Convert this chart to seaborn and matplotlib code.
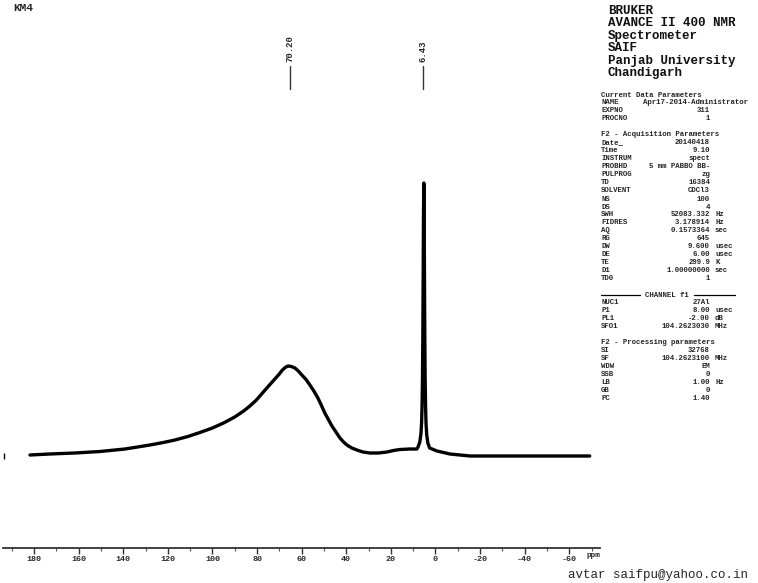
import matplotlib
matplotlib.use("Agg")
import matplotlib.pyplot as plt
from matplotlib.lines import Line2D
from matplotlib.ticker import FixedLocator, FixedFormatter
import seaborn as sns
import pandas as pd

# ---------------- data ----------------
ppm = [181.8, 172.9, 161.7, 150.4, 139.2, 128.0, 122.0, 116.8, 111.0, 105.6,
       100.0, 95.0, 90.0, 86.0, 83.2, 80.5, 78.7, 75.6, 72.0, 70.0,
       68.8, 67.4, 66.1, 64.6, 63.0, 61.5, 59.9, 58.0, 56.3, 54.5,
       52.7, 51.2, 49.6, 48.0, 46.4, 44.6, 42.8, 41.2, 39.7, 37.5,
       35.2, 32.5, 29.4, 25.5, 21.7, 18.8, 15.9, 11.4, 8.3,
       7.8, 7.0, 6.5, 6.2, 6.0, 5.8, 5.65, 5.5, 5.35,
       5.2, 5.05, 4.9, 4.75, 4.6, 4.4, 4.2, 3.9, 3.4, 2.6,
       -0.7, -6.5, -15.5, -28.9, -51.3, -69.2]
intensity = [1, 2, 3, 4.5, 7, 11, 13.5, 16, 19.5, 23.5,
             28, 33, 39, 45, 50, 55.5, 60, 68, 77, 82,
             85.5, 88.5, 90, 89.5, 88, 85, 81, 76.5, 71, 65,
             58, 51, 43, 36.5, 30, 24, 18, 14, 11, 8,
             6, 4, 3, 3, 4, 5.5, 6.5, 7, 7,
             9, 14, 22, 33, 49, 77, 117, 177, 241,
             273, 241, 176, 116, 76, 48, 32, 21, 13, 8,
             5, 2, 0, 0, 0, 0]

major_ticks = [180, 160, 140, 120, 100, 80, 60, 40, 20, 0, -20, -40, -60]
tick_labels = ["180", "160", "140", "120", "100", "80", "60", "40", "20", "0", "-20", "-40", "-60"]
minor_ticks = [190, 170, 150, 130, 110, 90, 70, 50, 30, 10, -10, -30, -50, -70]

peak_label_text = ["70.20", "6.43"]
peak_label_ppm = [65.2, 5.6]

header_lines = ["BRUKER", "AVANCE II 400 NMR", "Spectrometer", "SAIF",
                "Panjab University", "Chandigarh"]

current_title = "Current Data Parameters"
current_labels = ["NAME", "EXPNO", "PROCNO"]
current_values = ["Apr17-2014-Administrator", "311", "1"]

acq_title = "F2 - Acquisition Parameters"
acq_labels = ["Date_", "Time", "INSTRUM", "PROBHD", "PULPROG", "TD", "SOLVENT",
              "NS", "DS", "SWH", "FIDRES", "AQ", "RG", "DW", "DE", "TE", "D1", "TD0"]
acq_values = ["20140418", "9.10", "spect", "5 mm PABBO BB-", "zg", "16384", "CDCl3",
              "100", "4", "52083.332", "3.178914", "0.1573364", "645", "9.600",
              "6.00", "299.9", "1.00000000", "1"]
acq_units = ["", "", "", "", "", "", "", "", "", "Hz", "Hz", "sec", "", "usec",
             "usec", "K", "sec", ""]

channel_title = "CHANNEL f1"
ch_labels = ["NUC1", "P1", "PL1", "SFO1"]
ch_values = ["27Al", "8.00", "-2.00", "104.2623030"]
ch_units = ["", "usec", "dB", "MHz"]

proc_title = "F2 - Processing parameters"
proc_labels = ["SI", "SF", "WDW", "SSB", "LB", "GB", "PC"]
proc_values = ["32768", "104.2623100", "EM", "0", "1.00", "0", "1.40"]
proc_units = ["", "MHz", "", "", "Hz", "", ""]

sample_name = "KM4"
footer = "avtar saifpu@yahoo.co.in"

# ---------------- figure ----------------
sns.set_theme(style="white")
plt.rcParams["font.family"] = ["Liberation Mono", "DejaVu Sans Mono"]

W, H = 758, 583
fig = plt.figure(figsize=(W / 100, H / 100), dpi=100)
fig.patch.set_facecolor("white")

def fx(px):
    return px / W

def fy(py):
    return 1 - py / H

ax = fig.add_axes([fx(3), fy(548), fx(600) - fx(3), fy(0) - fy(548)])
ax.set_facecolor("white")

df = pd.DataFrame({"ppm": ppm, "intensity": intensity})
sns.lineplot(data=df, x="ppm", y="intensity", ax=ax, sort=False, estimator=None,
             color="black", lw=2.4)

ax.set_xlim(193.9, -73.8)
ax.set_ylim(-92, 456)
for s in ["top", "left", "right"]:
    ax.spines[s].set_visible(False)
ax.spines["bottom"].set_color("#333333")
ax.spines["bottom"].set_linewidth(1.3)
ax.set_yticks([])
ax.xaxis.set_major_locator(FixedLocator(major_ticks))
ax.xaxis.set_major_formatter(FixedFormatter(tick_labels))
ax.xaxis.set_minor_locator(FixedLocator(minor_ticks))
ax.tick_params(axis="x", which="major", direction="out", length=4, width=1,
               color="#333333", pad=1.5, labelsize=6, bottom=True)
ax.tick_params(axis="x", which="minor", direction="out", length=2, width=0.8,
               color="#555555", bottom=True)
for lab in ax.get_xticklabels():
    lab.set_fontweight("bold")
ax.set_xlabel("")
ax.set_ylabel("")
ax.text(0.989, -0.0145, "ppm", transform=ax.transAxes, fontsize=5.5,
        fontweight="bold", ha="center", va="center")

# small reference mark at left
ax.plot([0.002], [0], transform=ax.get_yaxis_transform(), marker="|", ms=4,
        mew=1, color="black", clip_on=False)

# peak labels
xt = ax.get_xaxis_transform()
for p, t in zip(peak_label_ppm, peak_label_text):
    ax.plot([p, p], [0.837, 0.880], transform=xt, color="#333333", lw=1,
            clip_on=False)
    ax.text(p, 0.886, t, transform=xt, rotation=90, fontsize=6.5,
            fontweight="bold", ha="center", va="bottom")

# sample name
fig.text(fx(13), fy(8), sample_name, fontsize=8, fontweight="bold",
         ha="left", va="center")

# header block
for i, line in enumerate(header_lines):
    fig.text(fx(608), fy(11 + 12.4 * i), line, fontsize=9, fontweight="bold",
             ha="left", va="center", color="#111111")

# parameter block
LX, VX, UX = 601, 710, 715
fs = 5.3
y0, dy = 95, 8.0

def row_y(k):
    return fy(y0 + dy * k)

k = 0
fig.text(fx(LX), row_y(k), current_title, fontsize=fs, fontweight="bold",
         ha="left", va="center")
k += 1
for lab, val in zip(current_labels, current_values):
    fig.text(fx(LX), row_y(k), lab, fontsize=fs, fontweight="bold", ha="left", va="center")
    if lab == "NAME":
        fig.text(fx(643), row_y(k), val, fontsize=fs, fontweight="bold", ha="left", va="center")
    else:
        fig.text(fx(VX), row_y(k), val, fontsize=fs, fontweight="bold", ha="right", va="center")
    k += 1
k += 1

def section(title, labels, values, units, k):
    fig.text(fx(LX), row_y(k), title, fontsize=fs, fontweight="bold",
             ha="left", va="center")
    k += 1
    for lab, val, un in zip(labels, values, units):
        fig.text(fx(LX), row_y(k), lab, fontsize=fs, fontweight="bold", ha="left", va="center")
        fig.text(fx(VX), row_y(k), val, fontsize=fs, fontweight="bold", ha="right", va="center")
        if un:
            fig.text(fx(UX), row_y(k), un, fontsize=fs, fontweight="bold", ha="left", va="center")
        k += 1
    return k

k = section(acq_title, acq_labels, acq_values, acq_units, k)
k += 1
# channel header with rules
cy = row_y(k)
fig.text(fx(667), cy, channel_title, fontsize=fs, fontweight="bold", ha="center", va="center")
fig.add_artist(Line2D([fx(601), fx(640)], [cy, cy], transform=fig.transFigure,
                      color="black", lw=0.9))
fig.add_artist(Line2D([fx(694), fx(735)], [cy, cy], transform=fig.transFigure,
                      color="black", lw=0.9))
k += 1
for lab, val, un in zip(ch_labels, ch_values, ch_units):
    fig.text(fx(LX), row_y(k), lab, fontsize=fs, fontweight="bold", ha="left", va="center")
    fig.text(fx(VX), row_y(k), val, fontsize=fs, fontweight="bold", ha="right", va="center")
    if un:
        fig.text(fx(UX), row_y(k), un, fontsize=fs, fontweight="bold", ha="left", va="center")
    k += 1
k += 1
k = section(proc_title, proc_labels, proc_values, proc_units, k)

# footer
fig.text(fx(568), fy(575), footer, fontsize=9, ha="left", va="center")

fig.savefig("out.png", dpi=100, facecolor="white")
